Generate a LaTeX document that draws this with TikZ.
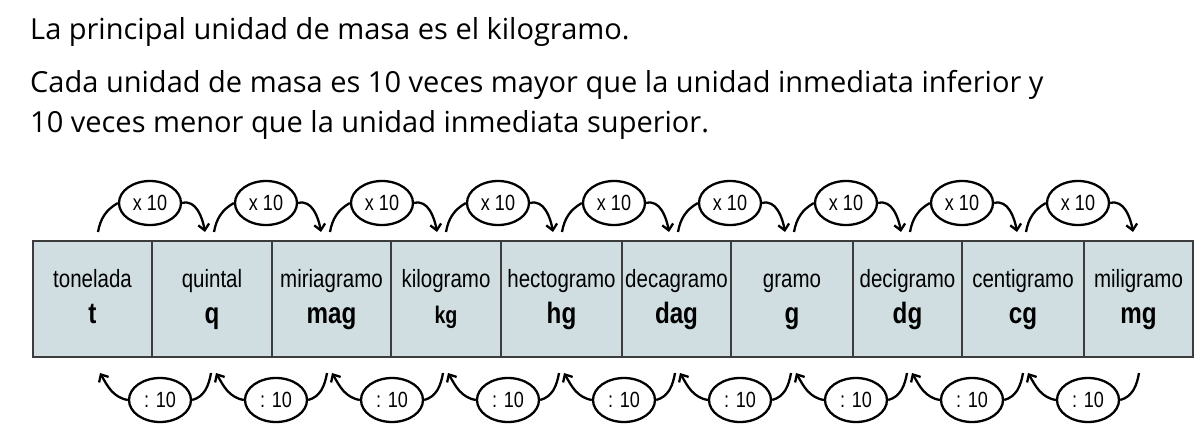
\documentclass[tikz,border=0pt]{standalone}
\usepackage{fontspec}
\setmainfont{Open Sans}
\newfontfamily\cellfont[FakeStretch=0.82]{Liberation Sans}
\usetikzlibrary{arrows.meta,shapes.geometric}
\definecolor{cellfill}{RGB}{208,222,225}
\definecolor{cellline}{RGB}{60,60,60}
\begin{document}
\begin{tikzpicture}[x=1pt,y=1pt,
 cellbox/.style={draw=cellline,line width=1.5pt,fill=cellfill,minimum height=116pt,inner sep=0pt},
 unitname/.style={font=\cellfont\fontsize{25}{25}\selectfont,anchor=base,inner sep=0pt},
 unitsym/.style={font=\cellfont\bfseries\fontsize{29.5}{29.5}\selectfont,anchor=base,inner sep=0pt},
 opbubble/.style={draw,ellipse,line width=2.3pt,minimum width=62pt,minimum height=44pt,inner sep=0pt,font=\cellfont\fontsize{22}{22}\selectfont},
 conn/.style={line width=2.3pt},
 arr/.style={line width=2.3pt,-{Straight Barb[length=6pt,width=11pt]}},
 maintext/.style={font=\fontsize{29}{29}\selectfont,anchor=base west,inner sep=0pt}]
\useasboundingbox (0,0) rectangle (1204,440);
\node[maintext] (t1) at (30,400) {La principal unidad de masa es el kilogramo.};
\node[maintext] (t2) at (30,347) {Cada unidad de masa es 10 veces mayor que la unidad inmediata inferior y};
\node[maintext] (t3) at (30,308) {10 veces menor que la unidad inmediata superior.};
\foreach \i/\l/\r/\n/\s in {1/33/152/tonelada/t, 2/152/272/quintal/q, 3/272/391/miriagramo/mag, 4/391/501/kilogramo/{\fontsize{24}{24}\selectfont kg}, 5/501/622/hectogramo/hg, 6/622/731/decagramo/dag, 7/731/853/gramo/g, 8/853/962/decigramo/dg, 9/962/1084/centigramo/cg, 10/1084/1193/miligramo/mg} {
  \pgfmathsetmacro\w{\r-\l}
  \pgfmathsetmacro\c{(\r+\l)/2}
  \node[cellbox,minimum width=\w pt] (c\i) at (\c,141) {};
  \node[unitname] (n\i) at (\c,153) {\n};
  \node[unitsym] (s\i) at (\c,117) {\s};
}
\foreach \i in {0,...,8} {
  \pgfmathsetmacro\cx{150+116*\i}
  \node[opbubble] (m\i) at (\cx,237) {x 10};
  \coordinate (ma\i) at (\cx-52,208);
  \coordinate (mb\i) at (\cx+55,208);
  \draw[conn] (ma\i) to[out=80,in=210] (m\i.west);
  \draw[arr] (m\i.east) to[out=15,in=100] (mb\i);
  \pgfmathsetmacro\dx{160+116*\i}
  \node[opbubble] (d\i) at (\dx,40) {: 10};
  \coordinate (da\i) at (\dx-60,67);
  \coordinate (db\i) at (\dx+51,67);
  \draw[arr] (d\i.west) to[out=170,in=-60] (da\i);
  \draw[conn] (d\i.east) to[out=15,in=-100] (db\i);
}
\end{tikzpicture}
\end{document}
